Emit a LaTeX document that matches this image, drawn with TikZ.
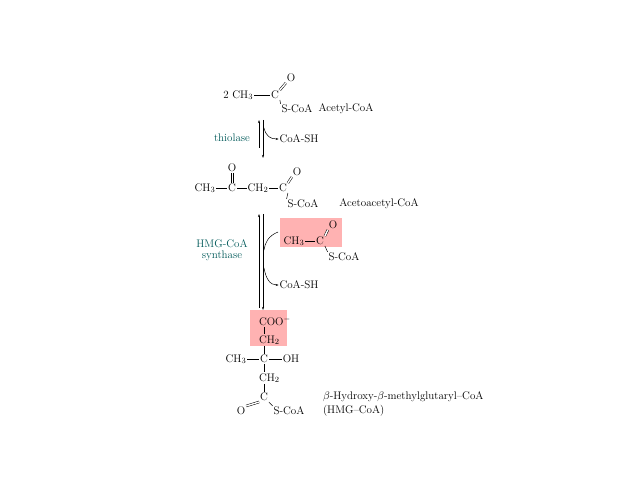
\documentclass[tikz,border=0pt]{standalone}
\usetikzlibrary{arrows.meta}
\begin{document}
\begin{tikzpicture}[x=1pt,y=-1pt,
  every node/.style={font=\fontsize{11}{13}\selectfont, inner sep=0.8pt},
  enz/.style={text=teal!70!black},
  bond/.style={line width=0.5pt},
  dbl/.style={line width=0.5pt,double,double distance=1.4pt},
  rx/.style={line width=0.5pt,-{Stealth[length=3pt,width=2pt]}},
  pinkbox/.style={fill=red!30,draw=none}]
\useasboundingbox (0,0) rectangle (638,478);
\fill[pinkbox] (280,218) rectangle (342,247);
\fill[pinkbox] (250,310) rectangle (287,346);
% row 1
\node[anchor=east] (a1) at (254,95) {2 CH$_3$};
\node (c1) at (275,95) {C};
\node (o1) at (291,78) {O};
\node (s1) at (297,109) {S-CoA};
\node (l1) at (346,109) {Acetyl-CoA};
\draw[bond] (a1.east) -- (c1.west);
\draw[dbl] (c1.north east) -- (o1.south west);
\draw[bond] (c1.south east) -- (s1.north west);
% thiolase
\node[enz] (t) at (232,138) {thiolase};
\node (cs1) at (299,139) {CoA-SH};
\coordinate (u1a) at (259,148); \coordinate (u1b) at (259,120);
\coordinate (d1a) at (263,120); \coordinate (d1b) at (263,158);
\draw[rx] (u1a) -- (u1b);
\draw[rx] (d1a) -- (d1b);
\coordinate (k1) at (264,128);
\draw[rx] (k1) .. controls (266,136) and (270,139) .. (cs1.west);
% row 2
\node (m2) at (205,188) {CH$_3$};
\node (c2) at (232,188) {C};
\node (o2) at (232,168) {O};
\node (h2) at (258,188) {CH$_2$};
\node (c3) at (283,188) {C};
\node (o3) at (297,172) {O};
\node (s3) at (303,204) {S-CoA};
\node (l2) at (379,204) {Acetoacetyl-CoA};
\draw[bond] (m2.east) -- (c2.west);
\draw[bond] (c2.east) -- (h2.west);
\draw[bond] (h2.east) -- (c3.west);
\draw[bond] ([xshift=-0.9pt]o2.south) -- ([xshift=-0.9pt]c2.north);
\draw[bond] ([xshift=0.9pt]o2.south) -- ([xshift=0.9pt]c2.north);
\draw[dbl] (c3.north east) -- (o3.south west);
\draw[bond] (c3.south east) -- (s3.north west);
% synthase
\node[enz,align=center] (sy) at (222,250) {HMG-CoA\\[-2pt]synthase};
\coordinate (u2a) at (259,308); \coordinate (u2b) at (259,214);
\coordinate (d2a) at (263,214); \coordinate (d2b) at (263,310);
\draw[rx] (u2a) -- (u2b);
\draw[rx] (d2a) -- (d2b);
\node (m4) at (294,241) {CH$_3$};
\node (c4) at (320,241) {C};
\node (o4) at (333,225) {O};
\node (s4) at (344,257) {S-CoA};
\draw[bond] (m4.east) -- (c4.west);
\draw[dbl] (c4.north east) -- (o4.south west);
\draw[bond] (c4.south east) -- (s4.north west);
\coordinate (k2) at (278,232);
\coordinate (k2e) at (264,250);
\draw[bond] (k2) .. controls (268,236) and (265,243) .. (k2e);
\node (cs2) at (299,285) {CoA-SH};
\coordinate (k3) at (264,268);
\draw[rx] (k3) .. controls (266,279) and (270,285) .. (cs2.west);
% HMG-CoA
\node[anchor=west] (coo) at (258,321) {COO$^{-}$};
\node[anchor=west] (h5) at (258,340) {CH$_2$};
\node (m6) at (236,359) {CH$_3$};
\node (c6) at (264,359) {C};
\node (oh) at (291,359) {OH};
\node[anchor=west] (h7) at (258,378) {CH$_2$};
\node (c8) at (264,397) {C};
\node (o8) at (241,411) {O};
\node (s8) at (289,411) {S-CoA};
\draw[bond] (264,327) -- (264,334);
\draw[bond] (264,346) -- (c6.north);
\draw[bond] (c6.south) -- (264,372);
\draw[bond] (264,384) -- (c8.north);
\draw[bond] (m6.east) -- (c6.west);
\draw[bond] (c6.east) -- (oh.west);
\draw[dbl] (c8.south west) -- (o8.north east);
\draw[bond] (c8.south east) -- (s8.north west);
\node[anchor=west] (l3) at (322,397) {$\beta$-Hydroxy-$\beta$-methylglutaryl--CoA};
\node[anchor=west] (l4) at (322,411) {(HMG--CoA)};
\end{tikzpicture}
\end{document}
